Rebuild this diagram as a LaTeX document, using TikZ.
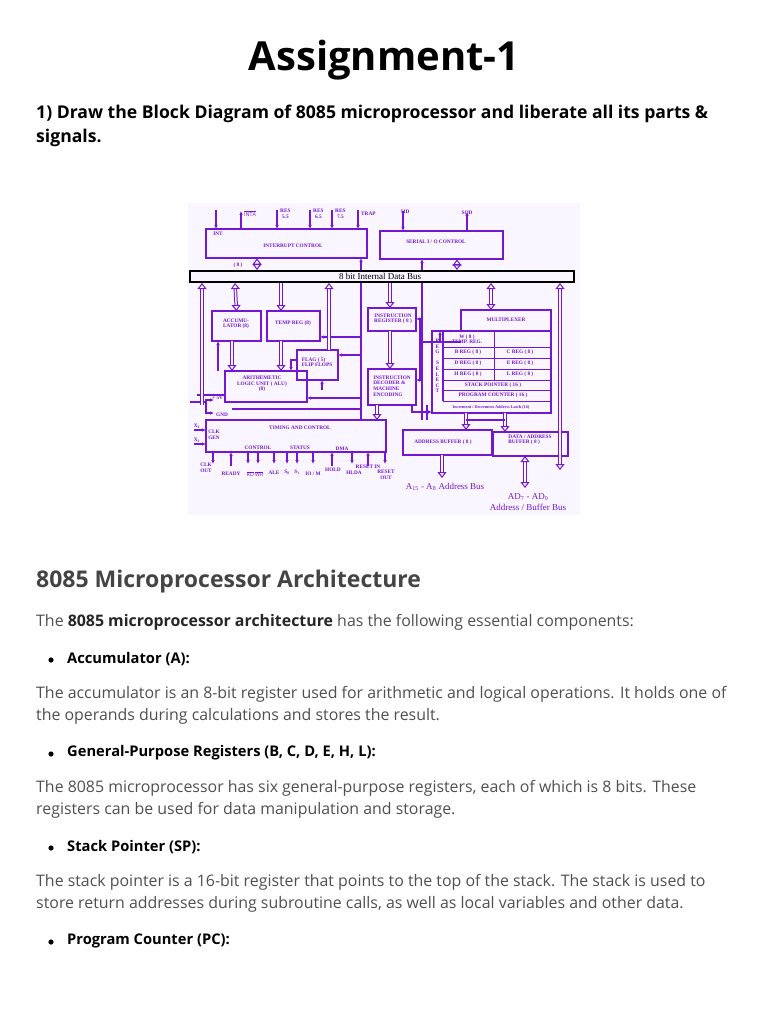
\documentclass[tikz,border=0pt]{standalone}
\usepackage{fontspec}
\setmainfont{Open Sans}
\newfontfamily\dg{Liberation Serif}
\usetikzlibrary{arrows.meta,calc}
\definecolor{pp}{HTML}{7417D0}
\definecolor{dbg}{HTML}{FAF6FF}
\definecolor{gt}{HTML}{505050}
\definecolor{ht}{HTML}{444444}
\begin{document}
\begin{tikzpicture}[x=1pt,y=-1pt,
 box/.style={draw=pp,line width=1.3pt,inner sep=0pt,outer sep=0pt},
 dl/.style={font=\dg\bfseries\fontsize{5.3}{5.6}\selectfont,text=pp,inner sep=0pt,align=center},
 ln/.style={pp,line width=1.2pt},
 ar/.style={pp,line width=1.2pt,-{Latex[length=4pt,width=3.5pt]}},
 hol/.style={draw=pp,double=dbg,double distance=2.5pt,line width=1pt,-{Triangle[open,length=6pt,width=9pt]}},
 hol2/.style={hol,{Triangle[open,length=6pt,width=9pt]}-{Triangle[open,length=6pt,width=9pt]}},
 bt/.style={font=\fontsize{15.9}{18}\selectfont,text=gt,anchor=west,inner sep=0pt},
 bh/.style={font=\bfseries\fontsize{14.7}{18}\selectfont,text=black,anchor=west,inner sep=0pt}]
\useasboundingbox (0,0) rectangle (768,1024);
\fill[white] (0,0) rectangle (768,1024);
% page text
\node[font=\bfseries\fontsize{40}{46}\selectfont,inner sep=0pt] (title) at (384,60) {Assignment-1};
\node[font=\bfseries\fontsize{17.6}{20}\selectfont,anchor=west,inner sep=0pt] (q1) at (36,114) {1) Draw the Block Diagram of 8085 microprocessor and liberate all its parts \&};
\node[font=\bfseries\fontsize{17.6}{20}\selectfont,anchor=west,inner sep=0pt] (q2) at (36,138) {signals.};
% diagram background
\fill[dbg] (188,203) rectangle (580,515);
% boxes
\node[box,minimum width=161pt,minimum height=29pt] (intc) at (286.5,243.5) {};
\node[dl] at (293,246) {INTERRUPT CONTROL};
\node[dl] at (218,234) {INT};
\node[box,minimum width=123pt,minimum height=28pt] (sioc) at (441.5,245) {};
\node[dl] at (436,242) {SERIAL I / O CONTROL};
\node[box,minimum width=49pt,minimum height=30pt] (acc) at (236.5,326) {};
\node[dl,align=left] at (236,324) {ACCUMU-\\LATOR (8)};
\node[box,minimum width=53pt,minimum height=30pt] (tmp) at (293.5,326) {};
\node[dl] at (293,323) {TEMP REG (8)};
\node[box,minimum width=41pt,minimum height=30pt] (flag) at (317.5,365) {};
\node[dl,align=left] at (317,362) {FLAG ( 5)\\FLIP FLOPS};
\node[box,minimum width=82pt,minimum height=31pt] (alu) at (266,386.5) {};
\node[dl] at (262,384) {ARITHEMETIC\\LOGIC UNIT ( ALU)\\(8)};
\node[box,minimum width=48pt,minimum height=23pt] (ir) at (392,319.5) {};
\node[dl] at (393,319) {INSTRUCTION\\REGISTER ( 8 )};
\node[box,minimum width=48pt,minimum height=36pt] (idec) at (392,387) {};
\node[dl,align=left] at (392,386) {INSTRUCTION\\DECODER \&\\MACHINE\\ENCODING};
\node[box,minimum width=90pt,minimum height=21pt] (mux) at (506,320.5) {};
\node[dl] at (506,320) {MULTIPLEXER};
% register array
\coordinate (ra1) at (432,331); \coordinate (ra2) at (551,413);
\draw[ln] (ra1) rectangle (ra2);
\draw[ln] (443,331)--(443,401);
\foreach \yy in {347,358,369,380,390,401} \draw[ln,line width=0.9pt] (443,\yy)--(551,\yy);
\draw[ln,line width=0.9pt] (494,331)--(494,380);
\node[dl] at (437.5,366) {R\\E\\G\\ \\S\\E\\L\\E\\C\\T};
\node[dl] at (467,339) {W ( 8 )\\TEMP. REG.};
\node[dl] at (468,352.5) {B REG ( 8 )}; \node[dl] at (520,352.5) {C REG ( 8 )};
\node[dl] at (468,363.5) {D REG ( 8 )}; \node[dl] at (520,363.5) {E REG ( 8 )};
\node[dl] at (468,374.5) {H REG ( 8 )}; \node[dl] at (520,374.5) {L REG ( 8 )};
\node[dl] at (493,385) {STACK POINTER ( 16 )};
\node[dl] at (493,395.5) {PROGRAM COUNTER ( 16 )};
\node[dl,font=\dg\bfseries\fontsize{4.2}{4.5}\selectfont] at (491,407) {Increment / Decrement Address Latch (16)};
\node[box,minimum width=180pt,minimum height=32pt] (tc) at (296,436) {};
\node[dl] at (300,428) {TIMING AND CONTROL};
\node[dl,align=left] at (214,435) {CLK\\GEN};
\node[dl] at (258,448) {CONTROL}; \node[dl] at (300,448) {STATUS}; \node[dl] at (342,449) {DMA};
\node[box,minimum width=89pt,minimum height=25pt] (ab) at (447.5,442.5) {};
\node[dl] at (443,442) {ADDRESS BUFFER ( 8 )};
\node[box,minimum width=75pt,minimum height=24pt] (dab) at (530.5,444) {};
\node[dl,align=left] at (530,440) {DATA / ADDRESS\\BUFFER ( 8 )};
% interrupt inputs
\foreach \xx/\t in {216/{},277/{RES\\5.5},310/{RES\\6.5},332/{RES\\7.5},358/{TRAP}} {
  \draw[ar] (\xx,210) -- (\xx,229);
  \node[dl,anchor=west] at (\xx+3,214) {\t};}
\draw[ar] (241,229)--(241,211); \node[dl,anchor=west] at (244,214) {$\overline{\mathrm{INTA}}$};
\draw[ar] (403,211)--(403,231); \node[dl] at (405,212) {SID};
\draw[ar] (467,231)--(467,212); \node[dl] at (467,213) {SOD};
\node[dl] at (238,265) {( 8 )};
\draw[hol2,double distance=1.5pt] (257,258.5)--(257,270);
\draw[hol2,double distance=1.5pt] (457,259.5)--(457,270);
% control lines
\draw[ar] (361,420)--(361,258);
\draw[ar] (422,420)--(422,259);
\draw[ar] (361,337)--(tmp.east|-0,337);
\draw[ar] (361,355)--(flag.east|-0,355);
\draw[ar] (361,398)--(alu.east|-0,398);
\draw[ar] (322,390)--(322,380);
\draw[ar] (297,360)--(291,360)--(291,371);
\draw[ar] (218,371)--(218,341);
\draw[ar] (420,319)--(416,319);
\draw[ln] (420,319)--(420,342)--(461,342);
\draw[ar] (440,342)--(440,331);
\draw[ar] (420,342)--(420,380)--(416,380);
\draw[ln] (427,405)--(427,420);
\draw[ar] (412,405)--(412,412)--(432,412);
\draw[ln] (197,395)--(225,395);
\draw[ln] (190,402)--(206,402);
\draw[ar] (206,405)--(206,400)--(214,400);
\draw[ar] (206,402)--(206,413)--(214,413);
\node[dl,anchor=west] at (212,398) {+ 5V};
\node[dl,anchor=west] at (216,415) {GND};
\draw[ln] (232,409)--(361,409);
% bus
\node[draw=black,line width=2pt,fill=dbg,inner sep=0pt,minimum width=384pt,minimum height=11pt] (bus) at (382,276) {};
\node[font=\dg\fontsize{9}{10}\selectfont,inner sep=0pt] at (380,276) {8 bit Internal Data Bus};
% bus connections
\draw[hol2,double distance=1.5pt] (235,283)--(acc.north);
\draw[hol] (281,283)--(281,311);
\draw[hol] (390,283)--(390,308);
\draw[hol2] (491,283)--(491,310);
\draw[hol] (329,350)--(329,283);
\draw[hol] (202,405)--(202,283);
\draw[hol2] (560,283)--(560,470);
\draw[hol] (390,331)--(390,369);
\draw[hol] (377,405)--(377,420);
\draw[hol] (232,341)--(232,371);
\draw[hol] (281,341)--(281,371);
\draw[hol] (442,455)--(442,478);
\draw[hol2] (525,456)--(525,488);
\draw[hol] (466,413)--(466,430);
\draw[hol] (505,413)--(505,432);
\draw[ln] (466,420)--(505,420);
% clock
\node[dl] at (197,426) {X\textsubscript{1}};
\node[dl] at (197,440) {X\textsubscript{2}};
\draw[ar] (194,430)--(206,430);
\draw[ar] (194,444)--(206,444);
% bottom signals
\foreach \xx in {213,248,258,274,287,297,313,352,385}
  \draw[ar] (\xx,452)--(\xx,464);
\foreach \xx in {231,332,368} \draw[ar] (\xx,466)--(\xx,452);
\node[dl] at (206,468) {CLK\\OUT};
\node[dl] at (231,474) {READY};
\node[dl] at (255,474) {$\overline{\mathrm{RD}}\,\overline{\mathrm{WR}}$};
\node[dl] at (274,473) {ALE};
\node[dl] at (287,472) {S\textsubscript{0}};
\node[dl] at (297,472) {S\textsubscript{1}};
\node[dl] at (313,474) {IO / M};
\node[dl] at (333,470) {HOLD};
\node[dl] at (354,473) {HLDA};
\node[dl] at (368,467) {RESET IN};
\node[dl] at (386,475) {RESET\\OUT};
\node[font=\dg\fontsize{9}{10}\selectfont,text=pp,inner sep=0pt] at (445,487) {A\textsubscript{15} - A\textsubscript{8} Address Bus};
\node[font=\dg\fontsize{9}{10.5}\selectfont,text=pp,inner sep=0pt,align=center] at (528,502) {AD\textsubscript{7} - AD\textsubscript{0}\\Address / Buffer Bus};
% lower page text
\node[font=\fontsize{23}{27}\selectfont\bfseries,text=ht,anchor=west,inner sep=0pt] (h2) at (36,582) {8085 Microprocessor Architecture};
\node[bt] at (36,622) {The \textbf{\color{black!85}8085 microprocessor architecture} has the following essential components:};
\foreach \yy/\t in {659/{Accumulator (A):},753/{General-Purpose Registers (B, C, D, E, H, L):},847/{Stack Pointer (SP):},941/{Program Counter (PC):}} {
  \fill (51,\yy+1) circle (2.6pt);
  \node[bh] at (67,\yy) {\t};}
\node[bt] at (36,694) {The accumulator is an 8-bit register used for arithmetic and logical operations. It holds one of};
\node[bt] at (36,716) {the operands during calculations and stores the result.};
\node[bt] at (36,788) {The 8085 microprocessor has six general-purpose registers, each of which is 8 bits. These};
\node[bt] at (36,810) {registers can be used for data manipulation and storage.};
\node[bt] at (36,882) {The stack pointer is a 16-bit register that points to the top of the stack. The stack is used to};
\node[bt] at (36,904) {store return addresses during subroutine calls, as well as local variables and other data.};
\end{tikzpicture}
\end{document}
